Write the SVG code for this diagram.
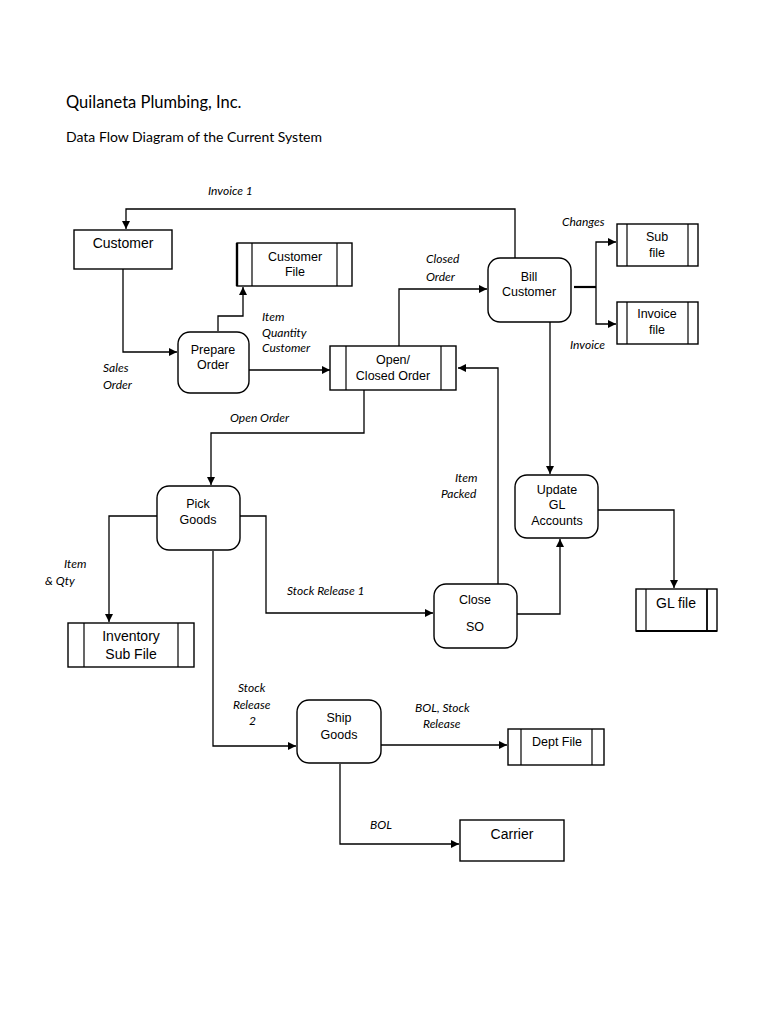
<svg xmlns="http://www.w3.org/2000/svg" width="768" height="1024" viewBox="0 0 768 1024">
<style>
.box{fill:#fff;stroke:#000;stroke-width:1.4}
.t{font-family:"Liberation Sans",Arial,sans-serif;font-size:12.5px;fill:#000;text-anchor:middle}
.tb{font-family:"Liberation Sans",Arial,sans-serif;font-size:14px;fill:#000;text-anchor:middle}
.lab{font-family:Lato,"Open Sans",sans-serif;font-style:italic;font-size:12px;fill:#000}
.c{fill:none;stroke:#000;stroke-width:1.3}
</style>
<defs>
<marker id="ah" viewBox="0 0 10 10" refX="10" refY="5" markerWidth="8" markerHeight="8" markerUnits="userSpaceOnUse" orient="auto">
<path d="M0,0 L10,5 L0,10 z" fill="#000"/>
</marker>
</defs>
<rect width="768" height="1024" fill="#fff"/>
<text x="66" y="108" font-family="Lato,'Open Sans',sans-serif" font-size="16.5" fill="#000">Quilaneta Plumbing, Inc.</text>
<text x="66" y="142" font-family="Lato,'Open Sans',sans-serif" font-size="14" fill="#000">Data Flow Diagram of the Current System</text>

<g id="connectors">
<path class="c" d="M515,258 V209 H126 V229" marker-end="url(#ah)"/>
<path class="c" d="M123,269 V352 H177" marker-end="url(#ah)"/>
<path class="c" d="M218,331 V316 H243 V287" marker-end="url(#ah)"/>
<path class="c" d="M249,370 H330" marker-end="url(#ah)"/>
<path class="c" d="M399,346 V289 H487" marker-end="url(#ah)"/>
<path d="M574,287 H596" stroke="#000" stroke-width="2.2"/>
<path class="c" d="M596,287 V242 H616" marker-end="url(#ah)"/>
<path class="c" d="M596,287 V324 H616" marker-end="url(#ah)"/>
<path class="c" d="M550,322 V474" marker-end="url(#ah)"/>
<path class="c" d="M598,510 H674 V588" marker-end="url(#ah)"/>
<path class="c" d="M517,614 H560 V539" marker-end="url(#ah)"/>
<path class="c" d="M498,584 V368 H458" marker-end="url(#ah)"/>
<path class="c" d="M364,390 V433 H211 V485" marker-end="url(#ah)"/>
<path class="c" d="M157,516 H109 V622" marker-end="url(#ah)"/>
<path class="c" d="M240,516 H266 V613 H433" marker-end="url(#ah)"/>
<path class="c" d="M213,551 V746 H296" marker-end="url(#ah)"/>
<path class="c" d="M381,745 H507" marker-end="url(#ah)"/>
<path class="c" d="M340,764 V844 H459" marker-end="url(#ah)"/>
</g>

<g id="labels">
<text class="lab" x="208" y="195">Invoice 1</text>
<text class="lab" x="262" y="321">Item</text>
<text class="lab" x="262" y="337">Quantity</text>
<text class="lab" x="262" y="352">Customer</text>
<text class="lab" x="103" y="372">Sales</text>
<text class="lab" x="103" y="389">Order</text>
<text class="lab" x="426" y="263">Closed</text>
<text class="lab" x="426" y="281">Order</text>
<text class="lab" x="562" y="226">Changes</text>
<text class="lab" x="570" y="349">Invoice</text>
<text class="lab" x="230" y="422">Open Order</text>
<text class="lab" x="455" y="482">Item</text>
<text class="lab" x="441" y="498">Packed</text>
<text class="lab" x="64" y="568">Item</text>
<text class="lab" x="45" y="585">&amp; Qty</text>
<text class="lab" x="287" y="595">Stock Release 1</text>
<text class="lab" x="238" y="692">Stock</text>
<text class="lab" x="233" y="709">Release</text>
<text class="lab" x="249" y="725">2</text>
<text class="lab" x="415" y="712">BOL, Stock</text>
<text class="lab" x="423" y="728">Release</text>
<text class="lab" x="370" y="829">BOL</text>
</g>

<g id="customer">
<rect class="box" x="74" y="230" width="98" height="39"/>
<text class="tb" x="123" y="248">Customer</text>
</g>
<g id="customer-file">
<rect class="box" x="237" y="243" width="115" height="43"/>
<line x1="237" y1="243" x2="237" y2="286" stroke="#000" stroke-width="2.4"/>
<line x1="252" y1="243" x2="252" y2="286" stroke="#000" stroke-width="1.2"/>
<line x1="337" y1="243" x2="337" y2="286" stroke="#000" stroke-width="1.2"/>
<text class="t" x="295" y="261">Customer</text>
<text class="t" x="295" y="276">File</text>
</g>
<g id="prepare-order">
<rect class="box" x="178" y="332" width="71" height="61" rx="12"/>
<text class="t" x="213" y="354">Prepare</text>
<text class="t" x="213" y="369">Order</text>
</g>
<g id="open-closed-order">
<rect class="box" x="330" y="346" width="126" height="44"/>
<line x1="346" y1="346" x2="346" y2="390" stroke="#000" stroke-width="1.2"/>
<line x1="441" y1="346" x2="441" y2="390" stroke="#000" stroke-width="1.2"/>
<text class="t" x="393" y="364">Open/</text>
<text class="t" x="393" y="380">Closed Order</text>
</g>
<g id="bill-customer">
<rect class="box" x="488" y="258" width="83" height="64" rx="12"/>
<text class="t" x="529" y="281">Bill</text>
<text class="t" x="529" y="296">Customer</text>
</g>
<g id="sub-file">
<rect class="box" x="617" y="224" width="81" height="42"/>
<line x1="627" y1="224" x2="627" y2="266" stroke="#000" stroke-width="1.2"/>
<line x1="688" y1="224" x2="688" y2="266" stroke="#000" stroke-width="1.2"/>
<text class="t" x="657" y="241">Sub</text>
<text class="t" x="657" y="257">file</text>
</g>
<g id="invoice-file">
<rect class="box" x="617" y="302" width="81" height="42"/>
<line x1="627" y1="302" x2="627" y2="344" stroke="#000" stroke-width="1.2"/>
<line x1="688" y1="302" x2="688" y2="344" stroke="#000" stroke-width="1.2"/>
<text class="t" x="657" y="318">Invoice</text>
<text class="t" x="657" y="334">file</text>
</g>
<g id="update-gl">
<rect class="box" x="515" y="475" width="83" height="63" rx="12"/>
<text class="t" x="557" y="494">Update</text>
<text class="t" x="557" y="509">GL</text>
<text class="t" x="557" y="525">Accounts</text>
</g>
<g id="gl-file">
<rect class="box" x="636" y="589" width="81" height="42"/>
<line x1="646" y1="589" x2="646" y2="631" stroke="#000" stroke-width="1.2"/>
<line x1="707" y1="589" x2="707" y2="631" stroke="#000" stroke-width="1.8"/>
<line x1="636" y1="631" x2="717" y2="631" stroke="#000" stroke-width="2"/>
<text class="tb" x="676" y="608">GL file</text>
</g>
<g id="close-so">
<rect class="box" x="434" y="584" width="83" height="64" rx="12"/>
<text class="t" x="475" y="604">Close</text>
<text class="t" x="475" y="631">SO</text>
</g>
<g id="pick-goods">
<rect class="box" x="157" y="486" width="83" height="64" rx="12"/>
<text class="t" x="198" y="508">Pick</text>
<text class="t" x="198" y="524">Goods</text>
</g>
<g id="inventory-sub-file">
<rect class="box" x="68" y="623" width="126" height="44"/>
<line x1="84" y1="623" x2="84" y2="667" stroke="#000" stroke-width="1.2"/>
<line x1="178" y1="623" x2="178" y2="667" stroke="#000" stroke-width="1.2"/>
<text class="tb" x="131" y="641">Inventory</text>
<text class="tb" x="131" y="659">Sub File</text>
</g>
<g id="ship-goods">
<rect class="box" x="297" y="700" width="84" height="63" rx="12"/>
<text class="t" x="339" y="722">Ship</text>
<text class="t" x="339" y="739">Goods</text>
</g>
<g id="dept-file">
<rect class="box" x="508" y="729" width="96" height="36"/>
<line x1="521" y1="729" x2="521" y2="765" stroke="#000" stroke-width="1.2"/>
<line x1="592" y1="729" x2="592" y2="765" stroke="#000" stroke-width="1.2"/>
<text class="t" x="557" y="746">Dept File</text>
</g>
<g id="carrier">
<rect class="box" x="460" y="820" width="104" height="41"/>
<text class="tb" x="512" y="839">Carrier</text>
</g>
</svg>
